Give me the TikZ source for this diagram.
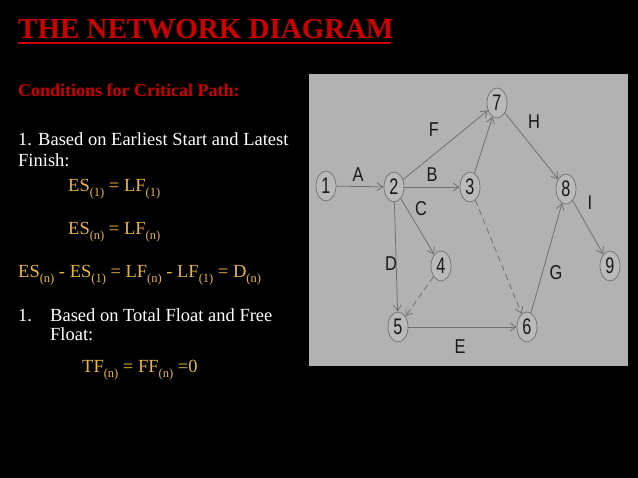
\documentclass[tikz,border=0pt]{standalone}
\usepackage{fontspec}
\usepackage{graphicx}
\setmainfont{Liberation Serif}
\newfontfamily\lsans{Liberation Sans}
\usetikzlibrary{shapes.geometric,arrows.meta}
\definecolor{ttlred}{RGB}{204,0,0}
\definecolor{eqyel}{RGB}{232,182,64}
\definecolor{panelgray}{RGB}{178,178,178}
\definecolor{nodefill}{RGB}{186,186,186}
\definecolor{edgegray}{RGB}{112,112,112}
\newcommand\mysb[1]{\raisebox{-0.55ex}{\fontsize{12.5}{12.5}\selectfont(#1)}}
\newcommand\nd[1]{\scalebox{0.72}[1]{#1}}
\newcommand\lbl[1]{\scalebox{0.82}[1]{#1}}
\begin{document}
\begin{tikzpicture}[x=1pt,y=-1pt,
  txt/.style={anchor=base west,inner sep=0,font=\fontsize{18.5}{21}\selectfont,text=white},
  eq/.style={txt,text=eqyel},
  ev/.style={ellipse,draw=edgegray,fill=nodefill,line width=0.7pt,minimum width=20pt,minimum height=30pt,inner sep=0,font=\lsans\fontsize{22.5}{22.5}\selectfont,text=black!90},
  act/.style={inner sep=0,font=\lsans\fontsize{20}{20}\selectfont,text=black!90},
  link/.style={draw=edgegray,line width=0.8pt,-{Straight Barb[length=6pt,width=8pt]}},
  dlink/.style={link,dash pattern=on 6pt off 4pt}]
\fill[black] (0,0) rectangle (638,478);
\useasboundingbox (0,0) rectangle (638,478);
% title
\node[anchor=base west,inner sep=0,text=ttlred,font=\bfseries\fontsize{29}{29}\selectfont] (title) at (18,39) {THE NETWORK DIAGRAM};
\draw[ttlred,line width=2pt] (title.base west) ++(0,4) -- ++(373,0);
\node[anchor=base west,inner sep=0,text=ttlred,font=\bfseries\fontsize{18}{18}\selectfont] (cond) at (18,97) {Conditions for Critical Path:};
% text
\node[txt] (l1) at (18,146) {1. Based on Earliest Start and Latest};
\node[txt] (l2) at (18,167) {Finish:};
\node[eq] (e1) at (68,192) {ES\mysb{1} = LF\mysb{1}};
\node[eq] (e2) at (68,235) {ES\mysb{n} = LF\mysb{n}};
\node[eq] (e3) at (18,278) {ES\mysb{n} - ES\mysb{1} = LF\mysb{n} - LF\mysb{1} = D\mysb{n}};
\node[txt] (l3n) at (18,322) {1.};
\node[txt] (l3) at (50,322) {Based on Total Float and Free};
\node[txt] (l4) at (50,341) {Float:};
\node[eq] (e4) at (82,373) {TF\mysb{n} = FF\mysb{n} =0};
% panel
\fill[panelgray] (309,74) rectangle (628,366);
\draw[gray!60,line width=1.5pt] (309,75) -- (628,75);
% events
\node[ev] (n1) at (326,186) {\nd{1}};
\node[ev] (n2) at (394,187) {\nd{2}};
\node[ev] (n3) at (470,187) {\nd{3}};
\node[ev] (n7) at (497,103) {\nd{7}};
\node[ev] (n8) at (566,189) {\nd{8}};
\node[ev] (n9) at (610,266) {\nd{9}};
\node[ev] (n4) at (441,266) {\nd{4}};
\node[ev] (n5) at (398,327) {\nd{5}};
\node[ev] (n6) at (527,327) {\nd{6}};
% activities
\draw[link] (n1) -- (n2);
\draw[link] (n2) -- (n3);
\draw[link] (n2) -- (n7);
\draw[link] (n3) -- (n7);
\draw[link] (n7) -- (n8);
\draw[link] (n2) -- (n4);
\draw[link] (n2) -- (n5);
\draw[dlink] (n4) -- (n5);
\draw[dlink] (n3) -- (n6);
\draw[link] (n5) -- (n6);
\draw[link] (n6) -- (n8);
\draw[link] (n8) -- (n9);
% labels
\node[act] (la) at (358,175) {\lbl{A}};
\node[act] (lb) at (432,175) {\lbl{B}};
\node[act] (lf) at (434,130) {\lbl{F}};
\node[act] (lh) at (534,122) {\lbl{H}};
\node[act] (lc) at (421,209) {\lbl{C}};
\node[act] (li) at (590,203) {\lbl{I}};
\node[act] (ld) at (391,264) {\lbl{D}};
\node[act] (lg) at (556,273) {\lbl{G}};
\node[act] (le) at (460,347) {\lbl{E}};
\end{tikzpicture}
\end{document}
